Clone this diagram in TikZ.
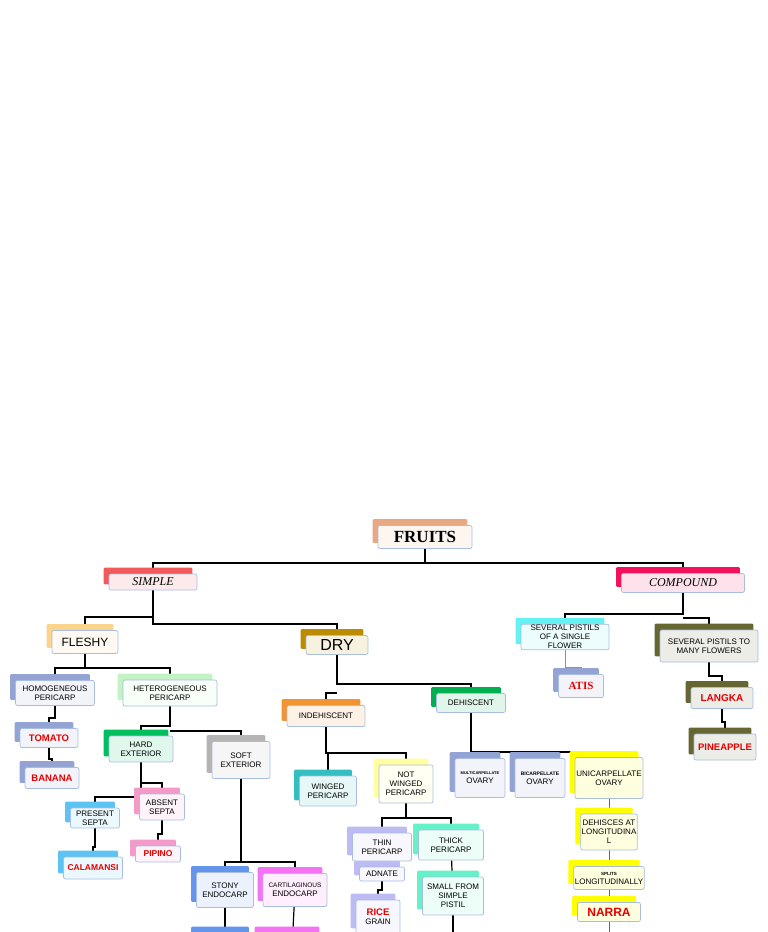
\documentclass[tikz,border=0pt]{standalone}
\usepackage{fontspec}
\setmainfont{Liberation Sans}
\newfontfamily\serifx{Liberation Serif}
\usetikzlibrary{calc}
\pgfdeclarelayer{bg}\pgfdeclarelayer{mid}\pgfsetlayers{bg,mid,main}
\definecolor{frb}{HTML}{A9BCE2}
\definecolor{cpeach}{HTML}{E8A882}\definecolor{cred}{HTML}{F05A5A}\definecolor{cpinkred}{HTML}{F5105A}
\definecolor{cfleshy}{HTML}{FAD38C}\definecolor{cdry}{HTML}{BB8C00}\definecolor{cbg}{HTML}{93A3D3}
\definecolor{clgreen}{HTML}{C3F3C3}\definecolor{cgreen}{HTML}{00BF5F}\definecolor{cgrey}{HTML}{B4B4B4}
\definecolor{csky}{HTML}{5CC3F3}\definecolor{cpink}{HTML}{F39BC8}\definecolor{croyal}{HTML}{6495ED}
\definecolor{cmag}{HTML}{F472F4}\definecolor{corange}{HTML}{F39433}\definecolor{cgreen2}{HTML}{00B050}
\definecolor{cteal}{HTML}{33BFBF}\definecolor{clyel}{HTML}{FFFFA0}\definecolor{cyel}{HTML}{FFFF00}
\definecolor{clav}{HTML}{BCBCF2}\definecolor{caqua}{HTML}{66F2C8}\definecolor{ccyan}{HTML}{66F2F2}
\definecolor{colive}{HTML}{666633}\definecolor{tred}{HTML}{E60000}
\tikzset{front/.style={draw=frb,line width=0.7pt,rounded corners=2pt,align=center,inner sep=1pt,font=\fontsize{8}{9}\selectfont},
conn/.style={line width=1.2pt,black},
thinconn/.style={line width=0.8pt,gray!80!black}}
\newcommand\fruitbox[8]{%
\node[front,minimum width=#4,minimum height=#5,fill=#6!12!white] (#1) at (#2,#3) {#7#8};
\begin{pgfonlayer}{mid}
\fill[#6,rounded corners=1pt] ([shift={(-5,-6)}]#1.north west) rectangle ([shift={(-5,-6)}]#1.south east);
\end{pgfonlayer}}
\newcommand\redb{\color{tred}\bfseries\fontsize{9.5}{10}\selectfont}
\begin{document}
\begin{tikzpicture}[x=1pt,y=-1pt]
\useasboundingbox (0,0) rectangle (768,932);
\fruitbox{fruits}{425}{537}{94}{23}{cpeach}{\serifx\bfseries\fontsize{17}{18}\selectfont}{FRUITS}
\fruitbox{simple}{153}{582}{88}{16}{cred}{\serifx\itshape\fontsize{12}{13}\selectfont}{SIMPLE}
\fruitbox{compound}{683}{583}{123}{19}{cpinkred}{\serifx\itshape\fontsize{12}{13}\selectfont}{COMPOUND}
\fruitbox{fleshy}{85}{642}{66}{23}{cfleshy}{\fontsize{12}{13}\selectfont}{FLESHY}
\fruitbox{dry}{337}{645}{62}{19}{cdry}{\fontsize{16}{17}\selectfont}{DRY}
\fruitbox{homo}{55}{693}{79}{25}{cbg}{}{HOMOGENEOUS\\PERICARP}
\fruitbox{hetero}{170}{693}{94}{26}{clgreen}{}{HETEROGENEOUS\\PERICARP}
\fruitbox{tomato}{49}{738}{58}{19}{cbg}{\redb}{TOMATO}
\fruitbox{banana}{52}{778}{54}{21}{cbg}{\redb}{BANANA}
\fruitbox{hard}{141}{749}{64}{26}{cgreen}{}{HARD\\EXTERIOR}
\fruitbox{soft}{241}{760}{58}{37}{cgrey}{}{SOFT\\EXTERIOR}
\fruitbox{present}{95}{818}{49}{20}{csky}{}{PRESENT\\SEPTA}
\fruitbox{absent}{162}{807}{45}{26}{cpink}{}{ABSENT\\SEPTA}
\fruitbox{calamansi}{93}{868}{59}{22}{csky}{\redb\fontsize{8.5}{9}\selectfont}{CALAMANSI}
\fruitbox{pipino}{158}{854}{45}{16}{cpink}{\redb\fontsize{8.5}{9}\selectfont}{PIPINO}
\fruitbox{stony}{225}{890}{57}{35}{croyal}{}{STONY\\ENDOCARP}
\fruitbox{cart}{295}{890}{64}{33}{cmag}{\fontsize{6.5}{7.5}\selectfont}{CARTILAGINOUS\\ENDOCARP}
\fruitbox{stonyb}{225}{948}{57}{30}{croyal}{}{}
\fruitbox{cartb}{292}{948}{64}{30}{cmag}{}{}
\fruitbox{indeh}{326}{716}{78}{21}{corange}{}{INDEHISCENT}
\fruitbox{deh}{471}{703}{69}{19}{cgreen2}{}{DEHISCENT}
\fruitbox{winged}{328}{791}{57}{30}{cteal}{}{WINGED\\PERICARP}
\fruitbox{notwinged}{406}{784}{54}{38}{clyel}{}{NOT\\WINGED\\PERICARP}
\fruitbox{multi}{480}{778}{50}{39}{cbg}{\fontsize{4}{5}\selectfont\bfseries}{MULTICARPELLATE\\OVARY}
\fruitbox{bi}{540}{778}{50}{39}{cbg}{\fontsize{5}{6}\selectfont\bfseries}{BICARPELLATE\\OVARY}
\fruitbox{uni}{609}{778}{68}{41}{cyel}{}{UNICARPELLATE\\OVARY}
\fruitbox{thin}{382}{847}{59}{28}{clav}{}{THIN\\PERICARP}
\fruitbox{thick}{451}{845}{65}{30}{caqua}{}{THICK\\PERICARP}
\fruitbox{adnate}{382}{874}{45}{14}{clav}{}{ADNATE}
\fruitbox{rice}{378}{917}{44}{34}{clav}{\redb}{RICE\\GRAIN}
\fruitbox{small}{453}{896}{61}{38}{caqua}{}{SMALL FROM\\SIMPLE\\PISTIL}
\fruitbox{dehat}{609}{832}{53}{36}{cyel}{}{DEHISCES AT\\LONGITUDINA\\L}
\fruitbox{splits}{609}{878}{57}{23}{cyel}{\fontsize{4.5}{5.5}\selectfont\bfseries}{SPLITS\\LONGITUDINALLY}
\fruitbox{narra}{609}{912}{63}{19}{cyel}{\color{tred}\bfseries\fontsize{12}{13}\selectfont}{NARRA}
\fruitbox{sevsingle}{565}{637}{88}{24}{ccyan}{}{SEVERAL PISTILS\\OF A SINGLE\\FLOWER}
\fruitbox{atis}{581}{686}{45}{23}{cbg}{\serifx\color{tred}\bfseries\fontsize{11}{12}\selectfont}{ATIS}
\fruitbox{sevmany}{709}{646}{98}{32}{colive}{}{SEVERAL PISTILS TO\\MANY FLOWERS}
\fruitbox{langka}{722}{698}{62}{21}{colive}{\redb\fontsize{10}{11}\selectfont}{LANGKA}
\fruitbox{pineapple}{725}{747}{62}{26}{colive}{\redb}{PINEAPPLE}
\coordinate (smallend) at (448,945);
\coordinate (narraend) at (604,945);
\begin{pgfonlayer}{bg}
\draw[conn] (fruits) -- (fruits|-0,563) -| (simple);
\draw[conn] (fruits|-0,563) -| (compound);
\draw[conn] (simple) -- (simple|-0,624) -| (dry);
\draw[conn] (simple|-0,617) -| (fleshy);
\draw[conn] (fleshy) -- (fleshy|-0,668) -| (homo);
\draw[conn] (fleshy|-0,668) -| (hetero);
\draw[conn] (homo) -- (homo|-0,718) -| (tomato);
\draw[conn] (tomato) -- (tomato|-0,759) -| (banana);
\draw[conn] (hetero) -- (hetero|-0,726) -| (hard);
\draw[conn] (hetero|-0,731) -| (soft);
\draw[conn] (hard) -- (hard|-0,797) -| (present);
\draw[conn] (hard|-0,783) -| (absent);
\draw[conn] (present) -- (present|-0,847) -| (calamansi);
\draw[conn] (absent) -- (absent|-0,834) -| (pipino);
\draw[conn] (soft) -- (soft|-0,862) -| (stony);
\draw[conn] (soft|-0,862) -| (cart);
\draw[conn] (stony) -- (stony|-0,918) -| (stonyb);
\draw[conn] (cart) -- (cartb);
\draw[conn] (dry) -- (dry|-0,684) -| (deh);
\draw[conn] (dry|-0,693) -| (indeh);
\draw[conn] (indeh) -- (indeh|-0,753) -| (winged);
\draw[conn] (indeh|-0,753) -| (notwinged);
\draw[conn] (deh) -- (deh|-0,752) -| (multi);
\draw[conn] (deh|-0,752) -| (bi);
\draw[conn] (deh|-0,752) -| (uni);
\draw[conn] (notwinged) -- (notwinged|-0,818) -| (thin);
\draw[conn] (notwinged|-0,818) -| (thick);
\draw[conn] (thin) -- (adnate);
\draw[conn] (adnate) -- (adnate|-0,890) -| (rice);
\draw[conn] (thick) -- (small);
\draw[conn] (small) -- (small|-smallend);
\draw[thinconn] (uni) -- (dehat);
\draw[thinconn] (dehat) -- (splits);
\draw[thinconn] (splits) -- (narra);
\draw[thinconn] (narra) -- (narra|-narraend);
\draw[conn] (compound) -- (compound|-0,614) -| (sevsingle);
\draw[conn] (compound|-0,618) -| (sevmany);
\draw[line width=0.8pt,croyal] (sevsingle) -- (sevsingle|-0,667) -| (atis);
\draw[conn] (sevmany) -- (sevmany|-0,676) -| (langka);
\draw[conn] (langka) -- (langka|-0,722) -| (pineapple);
\end{pgfonlayer}
\end{tikzpicture}
\end{document}
